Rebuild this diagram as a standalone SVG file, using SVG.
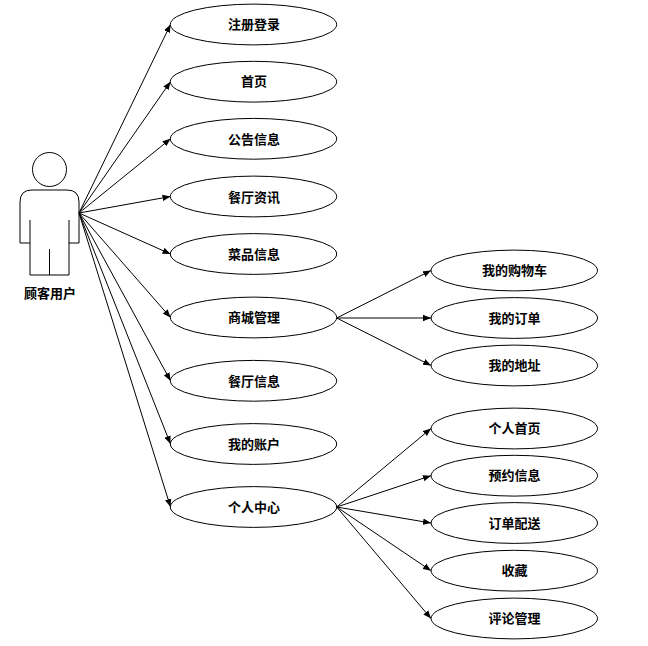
<svg xmlns="http://www.w3.org/2000/svg" width="648" height="646" viewBox="0 0 648 646">
<style>
.n{fill:#fff;stroke:#000;stroke-width:1}
.a{fill:none;stroke:#000;stroke-width:1}
.c{fill:none;stroke:#000;stroke-width:1;marker-end:url(#h)}
text{font-family:"Noto Sans CJK SC","Liberation Sans",sans-serif;font-size:13px;font-weight:700;text-anchor:middle;fill:#000}
</style>
<defs><marker id="h" markerUnits="userSpaceOnUse" markerWidth="9" markerHeight="7" refX="8" refY="3.5" orient="auto"><path d="M0 0.3L8 3.5L0 6.700Z" fill="#000"/></marker></defs>
<rect width="648" height="646" fill="#fff"/>
<g id="connectors">
<path class="c" d="M79 213L170.500 24.500"/>
<path class="c" d="M79 213L170.500 81.700"/>
<path class="c" d="M79 213L170.500 138.800"/>
<path class="c" d="M79 213L170.500 196.500"/>
<path class="c" d="M79 213L170.500 254"/>
<path class="c" d="M79 213L170.500 317.500"/>
<path class="c" d="M79 213L170.500 380.800"/>
<path class="c" d="M79 213L170.500 444"/>
<path class="c" d="M79 213L170.500 507"/>
<path class="c" d="M336.700 318L431 270.500"/>
<path class="c" d="M336.700 318L431 318"/>
<path class="c" d="M336.700 318L431 365.500"/>
<path class="c" d="M336.700 507L431 428.500"/>
<path class="c" d="M336.700 507L431 475.700"/>
<path class="c" d="M336.700 507L431 523"/>
<path class="c" d="M336.700 507L431 570.700"/>
<path class="c" d="M336.700 507L431 618.500"/>
</g>
<g id="actor">
<circle class="a" cx="49.5" cy="169.500" r="17"/>
<path class="a" d="M30 243H20V202Q20 190 32 190H67Q79 190 79 202V243H69M30 220V275H69V220M49.500 249V275"/>
<text x="50" y="298">顾客用户</text>
</g>
<g id="n1"><ellipse class="n" cx="253.500" cy="24.500" rx="83.200" ry="20.400"/><text x="254" y="28.500">注册登录</text></g>
<g id="n2"><ellipse class="n" cx="253.500" cy="81.700" rx="83.200" ry="20.400"/><text x="254" y="86">首页</text></g>
<g id="n3"><ellipse class="n" cx="253.500" cy="138.800" rx="83.200" ry="20.400"/><text x="254" y="143.500">公告信息</text></g>
<g id="n4"><ellipse class="n" cx="253.500" cy="196.500" rx="83.200" ry="20.400"/><text x="254" y="201.500">餐厅资讯</text></g>
<g id="n5"><ellipse class="n" cx="253.500" cy="254" rx="83.200" ry="20.400"/><text x="254" y="258.500">菜品信息</text></g>
<g id="n6"><ellipse class="n" cx="253.500" cy="317.500" rx="83.200" ry="20.400"/><text x="254" y="322">商城管理</text></g>
<g id="n7"><ellipse class="n" cx="253.500" cy="380.800" rx="83.200" ry="20.400"/><text x="254" y="385.500">餐厅信息</text></g>
<g id="n8"><ellipse class="n" cx="253.500" cy="444" rx="83.200" ry="20.400"/><text x="254" y="448.500">我的账户</text></g>
<g id="n9"><ellipse class="n" cx="253.500" cy="507" rx="83.200" ry="20.400"/><text x="254" y="511.500">个人中心</text></g>
<g id="n10"><ellipse class="n" cx="514.300" cy="270.500" rx="83.200" ry="20.400"/><text x="514.500" y="275">我的购物车</text></g>
<g id="n11"><ellipse class="n" cx="514.300" cy="318" rx="83.200" ry="20.400"/><text x="514.500" y="323">我的订单</text></g>
<g id="n12"><ellipse class="n" cx="514.300" cy="365.500" rx="83.200" ry="20.400"/><text x="514.500" y="370">我的地址</text></g>
<g id="n13"><ellipse class="n" cx="514.300" cy="428.500" rx="83.200" ry="20.400"/><text x="514.500" y="433">个人首页</text></g>
<g id="n14"><ellipse class="n" cx="514.300" cy="475.700" rx="83.200" ry="20.400"/><text x="514.500" y="480">预约信息</text></g>
<g id="n15"><ellipse class="n" cx="514.300" cy="523" rx="83.200" ry="20.400"/><text x="514.500" y="528">订单配送</text></g>
<g id="n16"><ellipse class="n" cx="514.300" cy="570.700" rx="83.200" ry="20.400"/><text x="514.500" y="575">收藏</text></g>
<g id="n17"><ellipse class="n" cx="514.300" cy="618.500" rx="83.200" ry="20.400"/><text x="514.500" y="623">评论管理</text></g>
</svg>
